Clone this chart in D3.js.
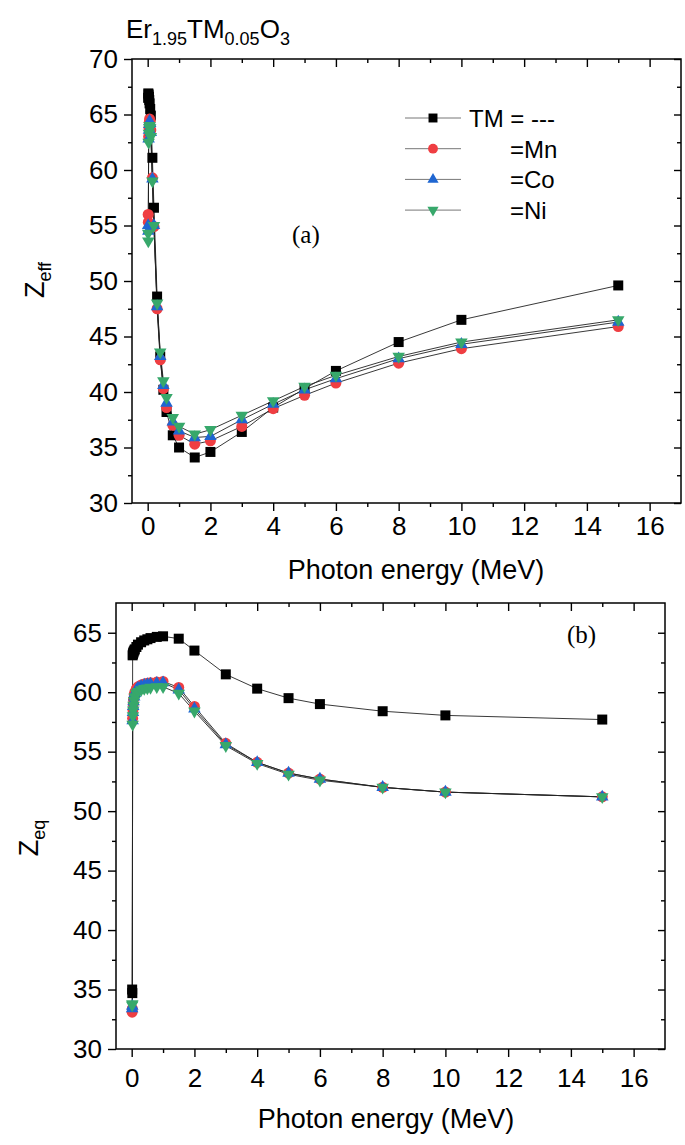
<!DOCTYPE html>
<html>
<head>
<meta charset="utf-8">
<script src="https://cdn.jsdelivr.net/npm/d3@7"></script>
<style>
  body { margin: 0; background: #fff; }
  svg text { font-family: "Liberation Sans", Arial, sans-serif; fill: #000; }
</style>
</head>
<body>
<svg id="chart" width="685" height="1145"></svg>
<script>
// photon energies (MeV)
var energy = [0.015,0.02,0.03,0.04,0.05,0.06,0.08,0.1,0.15,0.2,0.3,0.4,0.5,0.6,0.8,1,1.5,2,3,4,5,6,8,10,15];

// (a) Zeff
var zeffNone = [66.5,66.9,66.8,66.6,66.3,66.0,65.5,64.9,61.1,56.6,48.6,43.2,40.2,38.2,36.1,35.0,34.1,34.6,36.4,38.6,40.3,41.9,44.5,46.5,49.6];
var zeffMn   = [56.0,55.3,63.0,63.8,64.3,64.6,64.4,63.6,59.3,54.9,47.5,42.9,40.3,38.6,37.0,36.1,35.3,35.6,36.9,38.5,39.7,40.8,42.6,43.9,45.9];
var zeffCo   = [55.0,54.5,62.8,63.6,64.1,64.4,64.2,63.4,59.2,55.0,47.7,43.2,40.6,39.0,37.3,36.5,35.9,36.0,37.5,38.9,40.2,41.2,43.0,44.3,46.3];
var zeffNi   = [54.3,53.6,62.5,63.3,63.8,64.0,63.8,63.0,59.0,55.0,48.0,43.6,41.0,39.5,37.7,36.9,36.2,36.6,37.9,39.2,40.5,41.5,43.2,44.5,46.5];

// (b) Zeq
var zeqNone = [35.0,34.7,63.1,63.2,63.3,63.4,63.5,63.6,63.8,64.0,64.2,64.35,64.45,64.55,64.65,64.7,64.5,63.5,61.5,60.3,59.5,59.0,58.4,58.05,57.7];
var zeqMn   = [33.1,33.4,57.8,58.5,59.0,59.4,59.8,60.0,60.3,60.45,60.6,60.7,60.75,60.8,60.85,60.9,60.4,58.8,55.7,54.1,53.2,52.7,52.0,51.6,51.2];
var zeqCo   = [33.4,33.6,57.6,58.3,58.8,59.2,59.6,59.9,60.2,60.35,60.5,60.6,60.65,60.7,60.75,60.8,60.2,58.6,55.6,54.1,53.2,52.7,52.0,51.6,51.2];
var zeqNi   = [33.7,33.8,57.3,58.0,58.5,58.9,59.3,59.6,59.9,60.05,60.2,60.3,60.35,60.4,60.45,60.45,59.9,58.4,55.5,54.0,53.1,52.6,52.0,51.6,51.2];

var legendLabels = ["TM = ---", "=Mn", "=Co", "=Ni"];
var xTicks = [0,2,4,6,8,10,12,14,16];
var xMinor = [1,3,5,7,9,11,13,15];

var styles = [
  {color: "#000000", shape: d3.symbolSquare, size: 100, rot: 0},
  {color: "#ef3e42", shape: d3.symbolCircle, size: 95, rot: 0},
  {color: "#1f66d1", shape: d3.symbolTriangle, size: 68, rot: 0},
  {color: "#37a86b", shape: d3.symbolTriangle, size: 68, rot: 180}
];

var svg = d3.select("#chart");

function drawPanel(p) {
  var x = d3.scaleLinear().domain([-0.5, 17]).range([p.left, p.right]);
  var y = d3.scaleLinear().domain(p.ydom).range([p.bottom, p.top]);
  var g = svg.append("g");

  // bottom axis (outward) with labels
  g.append("g").attr("transform", "translate(0," + p.bottom + ")")
    .call(d3.axisBottom(x).tickValues(xTicks).tickSize(8).tickPadding(p.xpad));
  g.append("g").attr("transform", "translate(0," + p.bottom + ")")
    .call(d3.axisBottom(x).tickValues(xMinor).tickSize(4).tickFormat(""));
  // top axis (inward)
  g.append("g").attr("transform", "translate(0," + p.top + ")")
    .call(d3.axisBottom(x).tickValues(xTicks).tickSize(8).tickFormat(""));
  g.append("g").attr("transform", "translate(0," + p.top + ")")
    .call(d3.axisBottom(x).tickValues(xMinor).tickSize(4).tickFormat(""));
  // left axis (outward)
  g.append("g").attr("transform", "translate(" + p.left + ",0)")
    .call(d3.axisLeft(y).tickValues(p.yTicks).tickSize(8).tickPadding(6));
  g.append("g").attr("transform", "translate(" + p.left + ",0)")
    .call(d3.axisLeft(y).tickValues(p.yMinor).tickSize(4).tickFormat(""));
  // right axis (inward)
  g.append("g").attr("transform", "translate(" + p.right + ",0)")
    .call(d3.axisLeft(y).tickValues(p.yTicks).tickSize(7).tickFormat(""));
  g.append("g").attr("transform", "translate(" + p.right + ",0)")
    .call(d3.axisLeft(y).tickValues(p.yMinor).tickSize(4).tickFormat(""));

  g.selectAll(".domain").remove();
  g.selectAll(".tick line").attr("stroke", "#000").attr("stroke-width", 1.4);
  g.selectAll(".tick text").style("font-size", "26px").style("font-family", "Liberation Sans, Arial, sans-serif");

  g.append("rect")
    .attr("x", p.left).attr("y", p.top)
    .attr("width", p.right - p.left).attr("height", p.bottom - p.top)
    .attr("fill", "none").attr("stroke", "#000").attr("stroke-width", 1.5);

  // x label
  g.append("text")
    .attr("x", p.xlabelX).attr("y", p.xlabelY)
    .attr("text-anchor", "middle").style("font-size", "27px")
    .text("Photon energy (MeV)");

  // y label with subscript
  var yl = g.append("text")
    .attr("transform", "translate(" + p.ylabelX + "," + p.ylabelY + ") rotate(-90)")
    .attr("text-anchor", "middle").style("font-size", "27px");
  yl.append("tspan").text("Z");
  yl.append("tspan").attr("dy", 7).style("font-size", "18px").text(p.ysub);

  var line = d3.line().x(function(d) { return x(d[0]); }).y(function(d) { return y(d[1]); });

  p.series.forEach(function(vals, i) {
    var pts = energy.map(function(e, k) { return [e, vals[k]]; });
    g.append("path").datum(pts)
      .attr("d", line).attr("fill", "none")
      .attr("stroke", "#222").attr("stroke-width", 0.9);
  });
  p.series.forEach(function(vals, i) {
    var st = styles[i];
    var sym = d3.symbol().type(st.shape).size(st.size);
    g.selectAll(".m" + i).data(energy.map(function(e, k) { return [e, vals[k]]; }))
      .enter().append("path")
      .attr("class", "m" + i)
      .attr("d", sym)
      .attr("transform", function(d) { return "translate(" + x(d[0]) + "," + y(d[1]) + ") rotate(" + st.rot + ")"; })
      .attr("fill", st.color);
  });

  g.append("text")
    .attr("x", p.tagX).attr("y", p.tagY)
    .style("font-family", "Liberation Serif, Times New Roman, serif")
    .style("font-size", "25px")
    .text(p.tag);
  return g;
}

drawPanel({
  left: 132, right: 681, top: 59, bottom: 503,
  ydom: [30, 70],
  yTicks: [30,35,40,45,50,55,60,65,70],
  yMinor: [32.5,37.5,42.5,47.5,52.5,57.5,62.5,67.5],
  xpad: 6,
  xlabelX: 416, xlabelY: 579,
  ylabelX: 44, ylabelY: 280, ysub: "eff",
  series: [zeffNone, zeffMn, zeffCo, zeffNi],
  tag: "(a)", tagX: 292, tagY: 243
});

drawPanel({
  left: 116, right: 665, top: 603, bottom: 1049,
  ydom: [30, 67.5],
  yTicks: [30,35,40,45,50,55,60,65],
  yMinor: [32.5,37.5,42.5,47.5,52.5,57.5,62.5],
  xpad: 12,
  xlabelX: 386, xlabelY: 1128,
  ylabelX: 38, ylabelY: 838, ysub: "eq",
  series: [zeqNone, zeqMn, zeqCo, zeqNi],
  tag: "(b)", tagX: 567, tagY: 643
});

// title
var title = svg.append("text").attr("x", 126).attr("y", 38).style("font-size", "26px");
[["Er", 0], ["1.95", 1], ["TM", 0], ["0.05", 1], ["O", 0], ["3", 1]].forEach(function(t, i, arr) {
  var prevSub = i > 0 ? arr[i - 1][1] : 0;
  var dy = (t[1] - prevSub) * 7;
  title.append("tspan").attr("dy", dy).style("font-size", t[1] ? "18px" : "26px").text(t[0]);
});

// legend
var leg = svg.append("g");
legendLabels.forEach(function(lab, i) {
  var yy = 118 + i * 30.7;
  var st = styles[i];
  leg.append("line").attr("x1", 405).attr("x2", 461).attr("y1", yy).attr("y2", yy)
    .attr("stroke", "#777").attr("stroke-width", 1);
  leg.append("path")
    .attr("d", d3.symbol().type(st.shape).size(st.size * 0.8))
    .attr("transform", "translate(433," + yy + ") rotate(" + st.rot + ")")
    .attr("fill", st.color);
  leg.append("text").attr("x", i === 0 ? 469 : 510).attr("y", yy + 9)
    .style("font-size", "24px").text(lab);
});
</script>
</body>
</html>
